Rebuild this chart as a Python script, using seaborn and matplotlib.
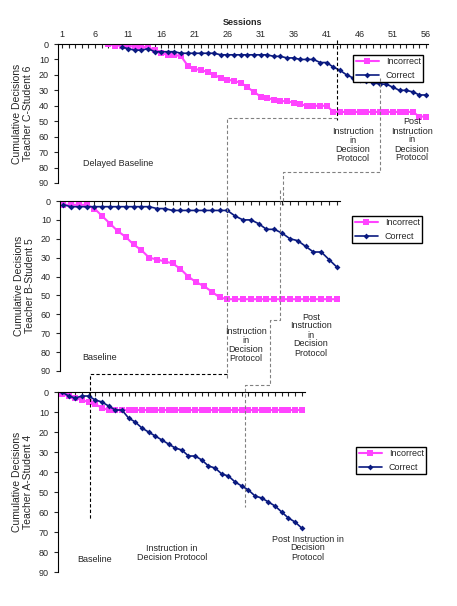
import numpy as np
import matplotlib
matplotlib.use("Agg")
import matplotlib.pyplot as plt
import seaborn as sns
from matplotlib.lines import Line2D

sns.set_style("white")
plt.rcParams['font.family'] = ['Liberation Sans', 'DejaVu Sans']

# Teacher C - Student 6 (sessions 8..56 incorrect, 10..56 correct)
c_inc_sessions = list(range(8, 57))
c_incorrect = [0, 1, 1, 1, 2, 2, 2, 4, 6, 7, 7, 8, 14, 16, 17, 18, 20, 22, 23, 24, 25, 28, 31,
               34, 35, 36, 37, 37, 38, 39, 40, 40, 40, 40, 44, 44, 44, 44, 44, 44, 44, 44, 44,
               44, 44, 44, 44, 47, 47]
c_cor_sessions = list(range(10, 57))
c_correct = [2, 3, 4, 4, 3, 5, 5, 5, 5, 6, 6, 6, 6, 6, 6, 7, 7, 7, 7, 7, 7, 7, 7, 8, 8, 9, 9,
             10, 10, 10, 12, 12, 15, 17, 20, 22, 23, 24, 25, 26, 26, 28, 30, 30, 31, 33, 33]

# Teacher B - Student 5 (sessions 1..36)
b_sessions = list(range(1, 37))
b_incorrect = [2, 2, 2, 2, 4, 8, 12, 16, 19, 23, 26, 30, 31, 32, 33, 36, 40, 43, 45, 48, 51,
               52, 52, 52, 52, 52, 52, 52, 52, 52, 52, 52, 52, 52, 52, 52]
b_correct = [2, 3, 3, 3, 3, 3, 3, 3, 3, 3, 3, 3, 4, 4, 5, 5, 5, 5, 5, 5, 5, 5, 8, 10, 10, 12,
             15, 15, 17, 20, 21, 24, 27, 27, 31, 35]

# Teacher A - Student 4 (sessions 1..37)
a_sessions = list(range(1, 38))
a_incorrect = [1, 2, 3, 4, 5, 6, 8] + [9] * 30
a_correct = [0, 2, 3, 2, 2, 4, 5, 7, 9, 9, 13, 15, 18, 20, 22, 24, 26, 28, 29, 32, 32, 34, 37,
             38, 41, 42, 45, 47, 49, 52, 53, 55, 57, 60, 63, 65, 68]

yticks = list(range(0, 91, 10))
xtick_labels = [1, 6, 11, 16, 21, 26, 31, 36, 41, 46, 51, 56]

W, H = 457, 606
fig = plt.figure(figsize=(W / 100, H / 100), dpi=100)
fs = 6.5

def px(x0, y0, x1, y1):
    return [x0 / W, 1 - y1 / H, (x1 - x0) / W, (y1 - y0) / H]

panels = [
    (px(58, 44, 428, 183), (0.4, 56.3), "Cumulative Decisions\nTeacher C-Student 6",
     c_inc_sessions, c_incorrect, c_cor_sessions, c_correct, (428, 50)),
    (px(60, 201, 340, 371), (0.6, 36.4), "Cumulative Decisions\nTeacher B-Student 5",
     b_sessions, b_incorrect, b_sessions, b_correct, (427, 211)),
    (px(58, 392, 305, 572), (0.4, 37.5), "Cumulative Decisions\nTeacher A-Student 4",
     a_sessions, a_incorrect, a_sessions, a_correct, (431, 442)),
]

axes = []
for i, (rect, xlim, ylab, si, inc, sc, cor, lpos) in enumerate(panels):
    ax = fig.add_axes(rect)
    sns.lineplot(x=si, y=inc, ax=ax, color="#FF44FF", marker="s", markersize=5,
                 markeredgewidth=0, linewidth=1.5, label="Incorrect")
    sns.lineplot(x=sc, y=cor, ax=ax, color="#0A1A80", marker="D", markersize=3,
                 markeredgewidth=0, linewidth=1.2, label="Correct")
    ax.set_xlim(*xlim)
    ax.set_ylim(90, 0)
    ax.set_yticks(yticks)
    ax.tick_params(axis="y", labelsize=fs, length=3, direction="out", left=True)
    ax.xaxis.tick_top()
    ax.set_xticks(range(1, int(xlim[1]) + 1), minor=False)
    ax.tick_params(axis="x", length=3, direction="in", top=True, bottom=False, labelsize=fs)
    if i == 0:
        ax.set_xticklabels([str(s) if s in xtick_labels else "" for s in range(1, int(xlim[1]) + 1)])
        ax.xaxis.set_label_position("top")
        ax.set_xlabel("Sessions", fontsize=fs, fontweight="bold")
    else:
        ax.set_xticklabels([])
    for s in ["right", "bottom"]:
        ax.spines[s].set_visible(False)
    for s in ["left", "top"]:
        ax.spines[s].set_color("black")
        ax.spines[s].set_linewidth(0.8)
    ax.set_ylabel(ylab, fontsize=fs + 1)
    ax.legend(loc="upper right", bbox_to_anchor=(lpos[0] / W, 1 - lpos[1] / H),
              bbox_transform=fig.transFigure, fontsize=fs, frameon=True,
              fancybox=False, edgecolor="black", borderpad=0.3, handlelength=2.5,
              framealpha=1)
    axes.append(ax)

# phase change lines in pixel coordinates
def fline(xs, ys, color="gray", ls=(0, (3, 2))):
    fig.add_artist(Line2D([x / W for x in xs], [1 - y / H for y in ys], color=color,
                          linestyle=ls, linewidth=0.8))

fline([337, 337], [40, 120], color="black")
fline([380, 380, 283, 283], [78, 172, 172, 205])
fline([280, 280, 270, 270, 245, 245], [190, 320, 320, 385, 385, 507])
fline([337, 227, 227], [118, 118, 378])
fline([227, 90, 90], [374, 374, 519], color="black")

def ftext(x, y, s):
    fig.text(x / W, 1 - y / H, s, fontsize=fs, ha="center", va="center", linespacing=1.0)

ftext(118, 163, "Delayed Baseline")
ftext(353, 145, "Instruction\nin\nDecision\nProtocol")
ftext(412, 140, "Post\nInstruction\nin\nDecision\nProtocol")
ftext(100, 358, "Baseline")
ftext(246, 345, "Instruction\nin\nDecision\nProtocol")
ftext(311, 335, "Post\nInstruction\nin\nDecision\nProtocol")
ftext(95, 559, "Baseline")
ftext(172, 553, "Instruction in\nDecision Protocol")
ftext(308, 548, "Post Instruction in\nDecision\nProtocol")

fig.savefig("out.png", dpi=100)
